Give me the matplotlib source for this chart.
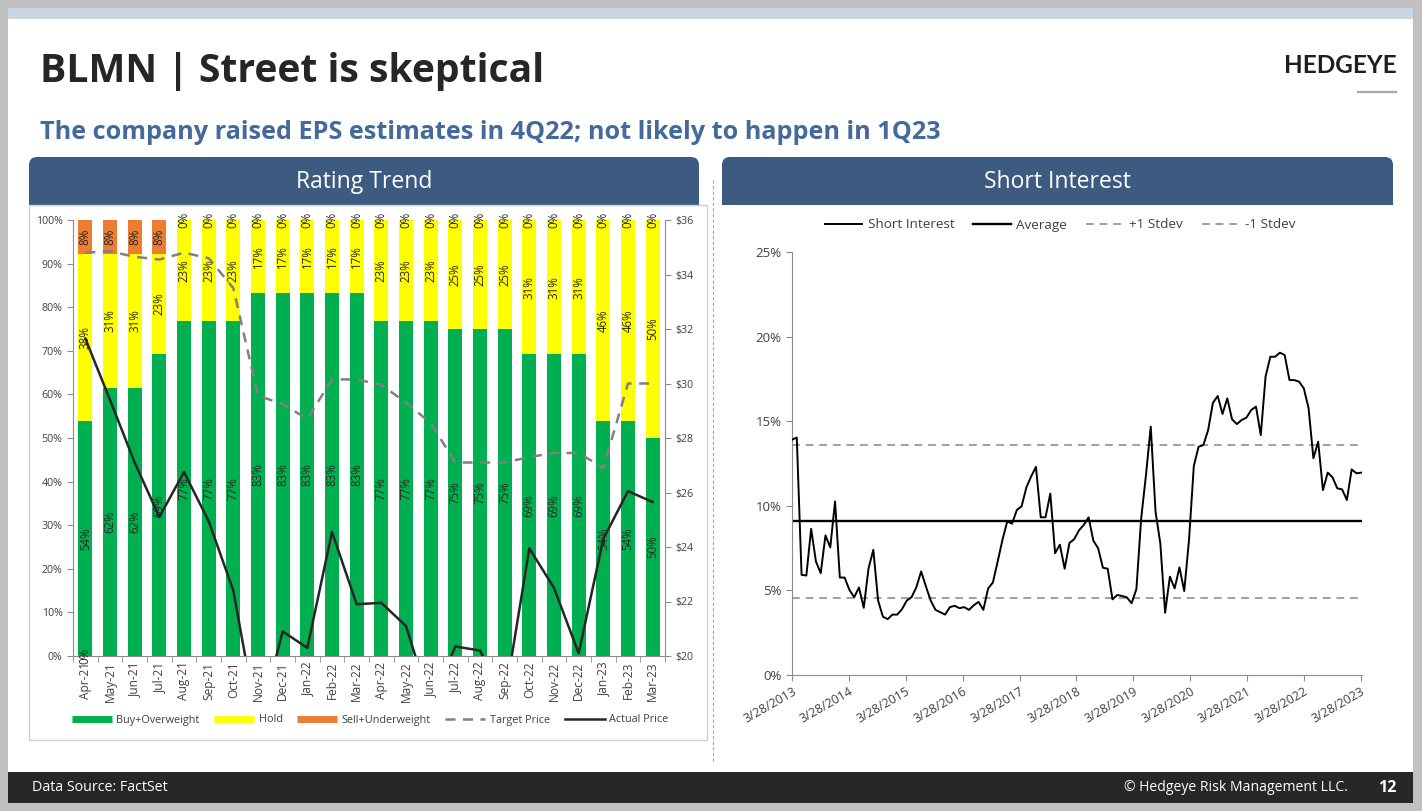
import numpy as np
import pandas as pd
import matplotlib
matplotlib.use("Agg")
import matplotlib.pyplot as plt
from matplotlib.patches import Rectangle, FancyBboxPatch
from matplotlib.lines import Line2D
from matplotlib.transforms import IdentityTransform
import matplotlib.ticker as mticker

plt.rcParams['font.family'] = ['Open Sans', 'DejaVu Sans']

# ---------------- data ----------------
months = ["Apr-21", "May-21", "Jun-21", "Jul-21", "Aug-21", "Sep-21", "Oct-21", "Nov-21",
          "Dec-21", "Jan-22", "Feb-22", "Mar-22", "Apr-22", "May-22", "Jun-22", "Jul-22",
          "Aug-22", "Sep-22", "Oct-22", "Nov-22", "Dec-22", "Jan-23", "Feb-23", "Mar-23"]
buy_pct = [53.8, 61.5, 61.5, 69.2, 76.9, 76.9, 76.9, 83.3, 83.3, 83.3, 83.3, 83.3,
           76.9, 76.9, 76.9, 75.0, 75.0, 75.0, 69.2, 69.2, 69.2, 53.8, 53.8, 50.0]
hold_pct = [38.5, 30.8, 30.8, 23.1, 23.1, 23.1, 23.1, 16.7, 16.7, 16.7, 16.7, 16.7,
            23.1, 23.1, 23.1, 25.0, 25.0, 25.0, 30.8, 30.8, 30.8, 46.2, 46.2, 50.0]
sell_pct = [7.7, 7.7, 7.7, 7.7, 0, 0, 0, 0, 0, 0, 0, 0,
            0, 0, 0, 0, 0, 0, 0, 0, 0, 0, 0, 0]
target_price = [34.8, 34.85, 34.65, 34.55, 34.8, 34.6, 33.5, 29.55, 29.25, 28.7, 30.15, 30.15,
                29.95, 29.3, 28.55, 27.1, 27.1, 27.1, 27.3, 27.45, 27.45, 26.9, 30.0, 30.0]
actual_price = [31.65, 29.4, 27.1, 25.1, 26.75, 24.95, 22.4, 17.4, 20.9, 20.3, 24.55, 21.9,
                21.95, 21.1, 18.2, 20.35, 20.2, 18.4, 23.95, 22.5, 20.1, 24.3, 26.05, 25.65]

short_interest = [13.91, 14.03, 5.92, 5.88, 8.64, 6.71, 6.02, 8.25, 7.54, 10.26,
                  5.76, 5.76, 5.03, 4.60, 5.17, 3.97, 6.30, 7.40, 4.40, 3.45,
                  3.30, 3.57, 3.57, 3.89, 4.40, 4.60, 5.19, 6.12, 5.23, 4.40,
                  3.85, 3.71, 3.57, 4.01, 4.09, 3.95, 4.01, 3.85, 4.12, 4.32,
                  3.85, 5.11, 5.47, 6.71, 7.99, 9.08, 8.94, 9.75, 9.97, 11.09,
                  11.74, 12.30, 9.32, 9.32, 10.72, 7.20, 7.70, 6.28, 7.80, 8.03,
                  8.55, 8.87, 9.32, 7.94, 7.49, 6.34, 6.28, 4.47, 4.73, 4.67,
                  4.59, 4.24, 5.08, 9.26, 11.82, 14.68, 9.65, 7.78, 3.68, 5.81,
                  5.12, 6.36, 4.96, 7.98, 12.35, 13.49, 13.59, 14.48, 16.09, 16.49,
                  15.43, 16.35, 15.11, 14.83, 15.07, 15.21, 15.66, 15.86, 14.18, 17.63,
                  18.81, 18.81, 19.05, 18.91, 17.43, 17.43, 17.34, 16.94, 15.76, 12.81,
                  13.79, 10.93, 11.96, 11.68, 11.03, 10.97, 10.34, 12.15, 11.92, 11.96]
si_start, si_end = "2013-03-28", "2023-03-31"
si_average = 9.1
si_plus1 = 13.6
si_minus1 = 4.55
si_tick_dates = ["3/28/2013", "3/28/2014", "3/28/2015", "3/28/2016", "3/28/2017", "3/28/2018",
                 "3/28/2019", "3/28/2020", "3/28/2021", "3/28/2022", "3/28/2023"]

# ---------------- figure / page ----------------
W, H = 1422, 811
fig = plt.figure(figsize=(W / 100, H / 100), dpi=100, facecolor="#c0c0c0")


def rect(x0, y0, x1, y1, **kw):
    """rectangle in top-left pixel coordinates"""
    p = Rectangle((x0, H - y1), x1 - x0, y1 - y0, transform=IdentityTransform(), **kw)
    fig.add_artist(p)
    return p


def fx(x):
    return x / W


def fy(y):
    return 1 - y / H


rect(8, 8, 1413, 803, facecolor="white", edgecolor="none", zorder=0)
rect(8, 8, 1413, 19, facecolor="#c9d6df", edgecolor="none", zorder=1)
rect(8, 772, 1413, 803, facecolor="#262729", edgecolor="none", zorder=1)

fig.text(fx(40), fy(82), "BLMN | Street is skeptical", fontsize=28.2, fontweight="bold",
         color="#262626", va="baseline", ha="left")
fig.text(fx(1397), fy(73), "HEDGEYE", fontsize=17.5, fontweight="bold", color="#1f1f1f",
         va="baseline", ha="right", family=["Lato", "DejaVu Sans"])
fig.add_artist(Line2D([fx(1358), fx(1396)], [fy(91.5), fy(91.5)], color="#9fabbb", lw=1.6,
                      transform=fig.transFigure))
fig.text(fx(40), fy(139), "The company raised EPS estimates in 4Q22; not likely to happen in 1Q23",
         fontsize=18.2, fontweight="bold", color="#44699a", va="baseline", ha="left")

# panel headers
for (x0, x1, label) in [(29, 699, "Rating Trend"), (722, 1393, "Short Interest")]:
    hb = FancyBboxPatch((x0, H - 205), x1 - x0, 48, boxstyle="round,pad=0,rounding_size=8",
                        transform=IdentityTransform(), facecolor="#3d5a80", edgecolor="none", zorder=2)
    fig.add_artist(hb)
    rect(x0, 190, x1, 205, facecolor="#3d5a80", edgecolor="none", zorder=2)
    fig.text(fx((x0 + x1) / 2), fy(182), label, fontsize=16.5, color="white", ha="center",
             va="center", zorder=3)

# left chart frame
rect(29, 205, 707, 740, facecolor="none", edgecolor="#d0d0d0", lw=1, zorder=2)
# separator
fig.add_artist(Line2D([fx(713), fx(713)], [fy(180), fy(762)], color="#a6a6a6", lw=0.8,
                      linestyle=(0, (3, 2)), transform=fig.transFigure))

# footer
fig.text(fx(32), fy(787.5), "Data Source: FactSet", fontsize=10.3, color="white", va="center", ha="left")
fig.text(fx(1348), fy(787.5), "\u00a9 Hedgeye Risk Management LLC.", fontsize=10.1, color="white",
         va="center", ha="right")
fig.text(fx(1396), fy(787.5), "12", fontsize=11.5, fontweight="bold", color="white", va="center", ha="right")

# ---------------- left chart: rating trend ----------------
GREEN, YELLOW, ORANGE = "#00b050", "#ffff00", "#ed7d31"
ax1 = fig.add_axes([fx(73), fy(656), 592 / W, 436 / H])
x = np.arange(len(months))
buy = np.array(buy_pct) / 100
hold = np.array(hold_pct) / 100
sell = np.array(sell_pct) / 100
bw = 0.57
ax1.bar(x, buy, bw, color=GREEN, zorder=2)
ax1.bar(x, hold, bw, bottom=buy, color=YELLOW, zorder=2)
ax1.bar(x, sell, bw, bottom=buy + hold, color=ORANGE, zorder=2)
ax1.set_xlim(-0.5, len(months) - 0.5)
ax1.set_ylim(0, 1)
ax1.yaxis.set_major_locator(mticker.MultipleLocator(0.1))
ax1.yaxis.set_major_formatter(mticker.FuncFormatter(lambda v, p: f"{v * 100:.0f}%"))
ax1.set_xticks(x)
ax1.set_xticklabels(months, rotation=90, fontsize=8.6, color="#404040")
ax1.set_xticks(np.arange(-0.5, len(months)), minor=True)
ax1.tick_params(axis="x", which="major", length=0, pad=4)
ax1.tick_params(axis="x", which="minor", length=4, color="#8c8c8c", direction="out")
ax1.tick_params(axis="y", labelsize=7.7, labelcolor="#404040", length=4, color="#8c8c8c")
for s in ["top", "right"]:
    ax1.spines[s].set_visible(False)
for s in ["left", "bottom"]:
    ax1.spines[s].set_color("#8c8c8c")

lab_kw = dict(rotation=90, ha="center", va="center", fontsize=8.3, color="#262626", zorder=5,
              clip_on=False)
for i in range(len(months)):
    ax1.text(x[i], buy[i] / 2, f"{buy_pct[i]:.0f}%", **lab_kw)
    ax1.text(x[i], buy[i] + hold[i] / 2, f"{hold_pct[i]:.0f}%", **lab_kw)
    ax1.text(x[i], buy[i] + hold[i] + sell[i] / 2, f"{sell_pct[i]:.0f}%", **lab_kw)
ax1.text(x[0], 0.0, "0%", **lab_kw)

ax2 = ax1.twinx()
ax2.plot(x, target_price, color="#808080", lw=1.8, linestyle=(0, (4, 3)), zorder=3)
ax2.plot(x, actual_price, color="#262626", lw=1.8, zorder=3)
ax2.set_ylim(20, 36)
ax2.yaxis.set_major_locator(mticker.MultipleLocator(2))
ax2.yaxis.set_major_formatter(mticker.FuncFormatter(lambda v, p: f"${v:.0f}"))
ax2.tick_params(axis="y", labelsize=7.7, labelcolor="#404040", length=4, color="#8c8c8c")
for s in ["top", "left", "bottom"]:
    ax2.spines[s].set_visible(False)
ax2.spines["right"].set_color("#8c8c8c")

handles1 = [Line2D([], [], color=GREEN, lw=5, solid_capstyle="butt"),
            Line2D([], [], color=YELLOW, lw=5, solid_capstyle="butt"),
            Line2D([], [], color=ORANGE, lw=5, solid_capstyle="butt"),
            Line2D([], [], color="#808080", lw=1.8, linestyle=(0, (4, 3))),
            Line2D([], [], color="#262626", lw=1.8)]
ax1.legend(handles1, ["Buy+Overweight", "Hold", "Sell+Underweight", "Target Price", "Actual Price"],
           loc="center", bbox_to_anchor=((370 - 73) / 592, (656 - 720) / 436), ncol=5,
           frameon=False, fontsize=7.8, handlelength=3.7, handletextpad=0.4, columnspacing=1.35,
           labelcolor="#404040")

# ---------------- right chart: short interest ----------------
ax3 = fig.add_axes([fx(792), fy(675), 570 / W, 423 / H])
d0, d1 = pd.Timestamp(si_start), pd.Timestamp(si_end)
si_dates = pd.to_datetime(np.linspace(d0.value, d1.value, len(short_interest)))
ax3.plot(si_dates, short_interest, color="black", lw=1.4, zorder=3, label="Short Interest")
ax3.axhline(si_average, color="black", lw=1.7, zorder=2, label="Average")
ax3.axhline(si_plus1, color="#a0a0a0", lw=1.4, linestyle=(0, (4, 3)), zorder=2, label="+1 Stdev")
ax3.axhline(si_minus1, color="#a0a0a0", lw=1.4, linestyle=(0, (4, 3)), zorder=2, label="-1 Stdev")
ax3.set_ylim(0, 25)
ax3.set_xlim(d0, pd.Timestamp("2023-04-05"))
ax3.yaxis.set_major_locator(mticker.MultipleLocator(5))
ax3.yaxis.set_major_formatter(mticker.FuncFormatter(lambda v, p: f"{v:.0f}%"))
tick_ts = pd.to_datetime(si_tick_dates, format="%m/%d/%Y")
ax3.set_xticks(tick_ts)
ax3.set_xticklabels(si_tick_dates, rotation=30, ha="right", rotation_mode="anchor", fontsize=9,
                    color="#404040")
ax3.tick_params(axis="y", labelsize=9.5, labelcolor="#404040", length=4, color="#8c8c8c")
ax3.tick_params(axis="x", length=4, color="#8c8c8c", pad=3)
for s in ["top", "right"]:
    ax3.spines[s].set_visible(False)
for s in ["left", "bottom"]:
    ax3.spines[s].set_color("#8c8c8c")
ax3.legend(loc="center", bbox_to_anchor=((1060 - 792) / 570, (675 - 225) / 423), ncol=4,
           frameon=False, fontsize=9.7, handlelength=2.8, handletextpad=0.4, columnspacing=1.4,
           labelcolor="#404040")

fig.savefig("out.png", dpi=100, facecolor=fig.get_facecolor())
